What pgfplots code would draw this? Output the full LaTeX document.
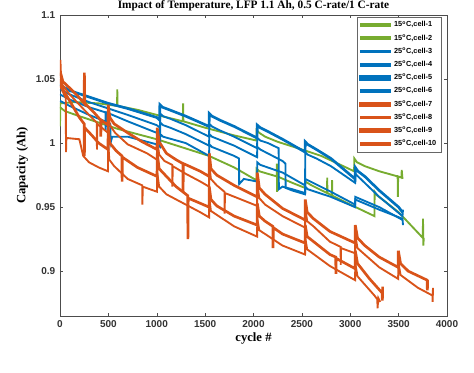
\documentclass[border=0pt]{standalone}
\usepackage{fontspec}
\setmainfont{Liberation Serif}
\setsansfont{Liberation Sans}
\usepackage{pgfplots}
\pgfplotsset{compat=1.18}
\definecolor{mgreen}{rgb}{0.466,0.674,0.188}
\definecolor{mblue}{rgb}{0,0.447,0.741}
\definecolor{morange}{rgb}{0.85,0.325,0.098}
\pgfplotsset{thicklegend/.style={legend image code/.code={\fill[##1] (0pt,-1pt) rectangle (22pt,1pt);}}}
\begin{document}
\begin{tikzpicture}
\path[use as bounding box] (-45pt,-42pt) rectangle (310.5pt,237pt);
\begin{axis}[
  scale only axis, width=290.25pt, height=225.75pt,
  at={(0,0)}, anchor=south west,
  xmin=0, xmax=4000, ymin=0.865, ymax=1.1,
  xtick={0,500,...,4000}, ytick={0.9,0.95,1,1.05,1.1},
  yticklabels={0.9,0.95,1,1.05,1.1},
  scaled x ticks=false,
  /pgf/number format/assume math mode=true,
  /pgf/number format/1000 sep={},
  tick label style={font=\sffamily\bfseries\fontsize{7.5}{9}\selectfont, text=black!80},
  axis line style={black!70}, tick style={black!70},
  tick align=inside, major tick length=2.5pt,
  every axis title shift=0pt,
  title={\bfseries Impact of Temperature, LFP 1.1 Ah, 0.5 C-rate/1 C-rate},
  title style={font=\fontsize{8.5}{10}\selectfont, at={(0.5,1)}, anchor=south, inner sep=0pt, yshift=2.5pt},
  xlabel={\bfseries cycle \#}, ylabel={\bfseries Capacity (Ah)},
  label style={font=\fontsize{9.5}{11}\selectfont},
  xlabel style={yshift=3pt},
  ylabel style={yshift=-1pt},
  no markers,
  legend cell align=left,
  legend style={at={(rel axis cs:0.985,0.995)}, anchor=north east,
    font=\sffamily\bfseries\fontsize{5.5}{6.5}\selectfont, draw=black!60,
    inner sep=1.5pt, row sep=0.3pt},
  legend image code/.code={\fill[#1] (0pt,-0.7pt) rectangle (22pt,0.7pt);},
]
% cell-1 green
\addplot[mgreen, line width=1.4pt] coordinates {(0,1.013)(3,1.031)(150,1.032)(400,1.031)(590,1.029)(592,1.042)(595,1.029)(800,1.026)(1000,1.022)(1270,1.017)(1272,1.031)(1275,1.017)(1500,1.012)(1800,1.006)(2030,1.002)(2032,1.010)(2060,1.008)(2120,1.005)(2250,1.001)(2500,0.995)(2700,0.990)(2900,0.983)(3040,0.978)(3042,0.988)(3070,0.985)(3150,0.982)(3300,0.978)(3490,0.974)(3492,0.958)(3495,0.974)(3530,0.973)(3532,0.979)(3540,0.972)};
\addlegendentry{15\textsuperscript{o}C,cell-1}
% cell-2 green
\addplot[mgreen, line width=1.4pt] coordinates {(0,1.028)(50,1.025)(200,1.021)(400,1.016)(600,1.011)(800,1.007)(1000,1.003)(1250,0.997)(1540,0.990)(1800,0.981)(2030,0.971)(2032,0.980)(2060,0.978)(2150,0.976)(2240,0.974)(2242,0.984)(2244,0.962)(2246,0.974)(2400,0.969)(2533,0.965)(2535,0.970)(2600,0.967)(2760,0.961)(2762,0.973)(2764,0.961)(2810,0.959)(2812,0.971)(2814,0.959)(3000,0.952)(3250,0.943)(3252,0.962)(3280,0.959)(3350,0.955)(3500,0.946)(3750,0.926)(3752,0.941)(3755,0.920)(3760,0.926)};
\addlegendentry{15\textsuperscript{o}C,cell-2}
% cell-3 blue
\addplot[mblue, line width=1.4pt] coordinates {(0,1.042)(100,1.038)(300,1.032)(500,1.027)(700,1.022)(1000,1.014)(1034,1.012)(1036,1.023)(1065,1.021)(1140,1.019)(1300,1.014)(1541,1.005)(1543,1.015)(1570,1.013)(1650,1.010)(1800,1.005)(2037,0.996)(2039,1.004)(2070,1.002)(2150,1.000)(2260,0.996)(2262,0.964)(2300,0.966)(2400,0.964)(2533,0.961)(2535,0.993)(2560,0.991)(2650,0.988)(2800,0.982)(3050,0.969)(3052,0.976)(3080,0.974)(3300,0.958)(3540,0.943)(3545,0.948)};
\addlegendentry{25\textsuperscript{o}C,cell-3}
% cell-4 blue
\addplot[mblue, line width=1.4pt] coordinates {(0,1.038)(100,1.034)(300,1.028)(470,1.024)(472,1.010)(480,1.024)(700,1.017)(1000,1.008)(1034,1.006)(1036,1.016)(1065,1.014)(1140,1.012)(1300,1.007)(1541,0.998)(1543,1.007)(1570,1.005)(1800,0.998)(2037,0.989)(2039,0.997)(2070,0.995)(2300,0.986)(2330,0.984)(2332,0.965)(2400,0.963)(2533,0.960)(2535,0.966)(2560,0.964)(2800,0.958)(3050,0.950)(3052,0.956)(3080,0.955)(3300,0.948)(3540,0.941)(3545,0.936)};
\addlegendentry{25\textsuperscript{o}C,cell-4}
% cell-5 blue thick
\addplot[mblue, line width=2pt, thicklegend] coordinates {(0,1.046)(30,1.044)(100,1.041)(300,1.036)(500,1.031)(700,1.027)(1000,1.020)(1030,1.018)(1032,1.030)(1060,1.028)(1130,1.026)(1300,1.021)(1541,1.013)(1543,1.023)(1570,1.021)(1650,1.018)(1800,1.013)(2037,1.004)(2039,1.014)(2070,1.012)(2150,1.009)(2300,1.003)(2533,0.993)(2535,1.001)(2560,0.999)(2650,0.995)(2800,0.988)(3050,0.972)(3052,0.981)(3080,0.978)(3150,0.974)(3300,0.963)(3500,0.950)(3540,0.946)};
\addlegendentry{25\textsuperscript{o}C,cell-5}
% cell-6 blue
\addplot[mblue, line width=1.4pt] coordinates {(0,1.033)(100,1.029)(300,1.022)(500,1.016)(520,1.015)(522,1.000)(540,1.005)(700,1.005)(1000,0.999)(1034,0.997)(1036,1.007)(1065,1.005)(1300,1.000)(1541,0.990)(1543,0.999)(1570,0.997)(1800,0.990)(1850,0.988)(1852,0.968)(1900,0.972)(2037,0.970)(2039,0.985)(2070,0.983)(2300,0.977)(2533,0.967)(2535,0.972)(2800,0.962)(3050,0.952)(3052,0.958)(3300,0.950)(3540,0.940)};
\addlegendentry{25\textsuperscript{o}C,cell-6}
% cell-7 orange thick
\addplot[morange, line width=2pt, thicklegend] coordinates {(0,1.065)(5,1.055)(30,1.048)(100,1.043)(180,1.037)(250,1.031)(252,1.055)(256,1.031)(350,1.024)(420,1.018)(422,1.005)(425,1.018)(496,1.014)(498,1.030)(515,1.020)(560,1.015)(700,1.008)(850,1.001)(1003,0.995)(1005,1.012)(1025,1.001)(1100,0.992)(1200,0.987)(1270,0.984)(1272,0.962)(1275,0.984)(1450,0.978)(1541,0.974)(1543,0.992)(1560,0.980)(1620,0.975)(1800,0.967)(2037,0.958)(2039,0.977)(2060,0.965)(2120,0.960)(2300,0.949)(2533,0.940)(2535,0.956)(2555,0.946)(2620,0.941)(2790,0.931)(3050,0.922)(3052,0.936)(3075,0.926)(3150,0.920)(3300,0.911)(3495,0.903)(3497,0.916)(3520,0.906)(3600,0.900)(3795,0.893)(3797,0.885)(3800,0.893)};
\addlegendentry{35\textsuperscript{o}C,cell-7}
% cell-8 orange
\addplot[morange, line width=1.4pt] coordinates {(0,1.055)(20,1.046)(100,1.038)(200,1.030)(300,1.022)(380,1.016)(382,0.995)(385,1.015)(496,1.008)(498,1.026)(515,1.014)(570,1.008)(700,0.999)(900,0.992)(1003,0.987)(1005,1.002)(1025,0.991)(1080,0.986)(1160,0.983)(1162,0.966)(1165,0.982)(1300,0.976)(1450,0.970)(1541,0.966)(1543,0.983)(1560,0.972)(1620,0.967)(1700,0.962)(1702,0.945)(1705,0.961)(2037,0.951)(2039,0.968)(2060,0.957)(2120,0.952)(2300,0.943)(2533,0.934)(2535,0.949)(2555,0.939)(2620,0.935)(2790,0.923)(2900,0.919)(2902,0.905)(2905,0.918)(3050,0.914)(3052,0.928)(3075,0.918)(3300,0.903)(3495,0.894)(3497,0.907)(3520,0.897)(3700,0.887)(3850,0.881)(3852,0.876)(3855,0.887)};
\addlegendentry{35\textsuperscript{o}C,cell-8}
% cell-9 orange thick
\addplot[morange, line width=2pt, thicklegend] coordinates {(0,1.050)(30,1.042)(100,1.033)(200,1.020)(250,1.015)(252,0.990)(255,1.012)(330,1.006)(400,1.000)(496,0.995)(498,1.012)(515,1.000)(580,0.994)(640,0.990)(642,0.970)(645,0.989)(800,0.981)(1003,0.974)(1005,0.992)(1025,0.980)(1100,0.974)(1200,0.966)(1320,0.959)(1322,0.925)(1325,0.957)(1450,0.953)(1541,0.950)(1543,0.966)(1560,0.956)(1620,0.951)(1800,0.943)(2037,0.936)(2039,0.953)(2060,0.943)(2120,0.939)(2200,0.935)(2202,0.918)(2205,0.934)(2300,0.929)(2533,0.922)(2535,0.936)(2555,0.927)(2790,0.913)(2850,0.911)(2852,0.898)(2855,0.910)(3050,0.902)(3052,0.916)(3075,0.906)(3200,0.894)(3330,0.883)(3332,0.877)(3335,0.888)};
\addlegendentry{35\textsuperscript{o}C,cell-9}
% cell-10 orange
\addplot[morange, line width=1.4pt] coordinates {(0,1.045)(30,1.040)(60,1.035)(62,0.993)(66,1.004)(200,1.003)(240,0.990)(300,0.985)(400,0.981)(496,0.978)(498,1.000)(510,0.987)(560,0.982)(700,0.972)(850,0.967)(852,0.952)(855,0.966)(1003,0.962)(1005,0.977)(1025,0.966)(1100,0.960)(1300,0.952)(1450,0.946)(1541,0.942)(1543,0.957)(1560,0.947)(1800,0.935)(2037,0.927)(2039,0.941)(2060,0.932)(2300,0.920)(2533,0.913)(2535,0.926)(2555,0.917)(2790,0.904)(3050,0.893)(3052,0.906)(3075,0.896)(3250,0.881)(3280,0.878)(3282,0.871)(3290,0.879)(3310,0.876)};
\addlegendentry{35\textsuperscript{o}C,cell-10}
\end{axis}
\end{tikzpicture}
\end{document}
